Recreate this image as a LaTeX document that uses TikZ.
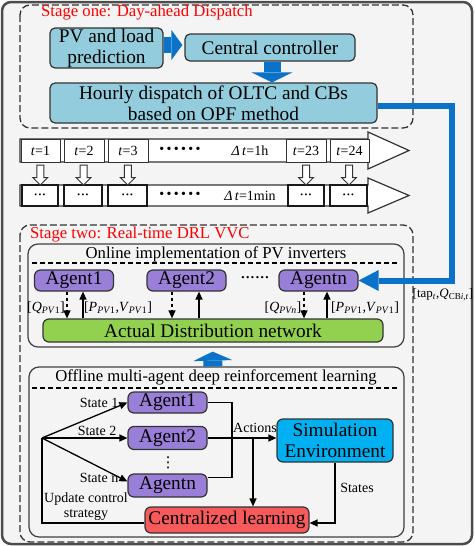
\documentclass[tikz,border=0pt]{standalone}
\usepackage{fontspec}
\setmainfont{Liberation Serif}
\newfontfamily\SymbolFont{DejaVu Sans}
\usepackage{tikz}
\usepackage{xcolor}
\usetikzlibrary{arrows.meta,positioning,calc,shapes.arrows}
\definecolor{Backdrop}{HTML}{F4F4F4}
\definecolor{PlanBlue}{HTML}{93CDDD}
\definecolor{AgentPurple}{HTML}{9A7FD8}
\definecolor{NetworkGreen}{HTML}{92D050}
\definecolor{SimulationCyan}{HTML}{00B0F0}
\definecolor{LearningRed}{HTML}{F65A5A}
\definecolor{ArrowBlue}{HTML}{0A72C8}
\definecolor{StageRed}{HTML}{FF0000}
\newcommand{\BoxFont}{\fontsize{19.3}{21}\selectfont}
\newcommand{\TitleFont}{\fontsize{16.7}{19}\selectfont}
\newcommand{\LabelFont}{\fontsize{14}{15}\selectfont}
\newcommand{\CellDots}{{\fontsize{8}{8}\selectfont •\,•\,•}}
\tikzstyle{StageBox} =[draw=black!80,dashed,dash pattern=on 7pt off 3pt,line width=1.3pt,rounded corners=10pt]
\tikzstyle{StageTitle} =[text=StageRed,font=\TitleFont,anchor=west,inner sep=0pt]
\tikzstyle{PanelBox} =[draw=black!75,line width=1.2pt,rounded corners=10pt,inner sep=0pt]
\tikzstyle{PanelTitle} =[font=\TitleFont,inner sep=0pt]
\tikzstyle{PanelRule} =[dashed,dash pattern=on 5pt off 3pt,line width=1.1pt]
\tikzstyle{PlanBox} =[draw=black!80,fill=PlanBlue,rounded corners=5pt,align=center,inner xsep=2pt,inner ysep=0pt,line width=1.2pt,font=\BoxFont]
\tikzstyle{AgentBox} =[draw=black!80,fill=AgentPurple,rounded corners=6pt,minimum width=79pt,minimum height=21pt,inner sep=0pt,line width=1.2pt,font=\BoxFont]
\tikzstyle{HourCell} =[draw=black!80,fill=white,minimum height=23pt,inner sep=0pt,line width=1pt,font=\LabelFont]
\tikzstyle{MinuteCell} =[draw=black!90,fill=white,minimum height=21pt,inner sep=0pt,line width=2pt,font=\LabelFont]
\tikzstyle{TimeBar} =[draw=black!80,fill=white,line width=1.2pt,line join=miter]
\tikzstyle{HollowDown} =[single arrow,draw=black!80,fill=white,shape border rotate=270,minimum height=20pt,inner sep=3pt,single arrow head extend=4pt,line width=1pt]
\tikzstyle{SmallText} =[font=\LabelFont,inner sep=0pt,align=center]
\tikzstyle{Flow} =[-{Triangle[length=8pt,width=7pt]},line width=1.3pt]
\tikzstyle{Feed} =[draw=ArrowBlue,line width=6pt,line join=miter,-{Triangle[length=20pt,width=21pt,line width=0pt]}]
\tikzset{PushArrow/.style n args={3}{draw=ArrowBlue,line width=#1,-{Triangle[length=#2,width=#3,line width=0pt]}}}
\begin{document}
\begin{tikzpicture}[x=1pt,y=-1pt]
\useasboundingbox (0,0) rectangle (474,546);
\fill[white] (0,0) rectangle (474,546);
\draw[draw=black!70,line width=2.5pt,fill=Backdrop,rounded corners=9pt] (2,2) rectangle (472,544);
\draw[StageBox] (20,5) rectangle (413,128);
\node[StageTitle] (StageOne) at (41,13) {Stage one: Day-ahead Dispatch};
\node[PlanBox,minimum width=113pt,minimum height=40pt] (Prediction) at (106.5,48) {PV and load\\prediction};
\node[PlanBox,minimum width=170pt,minimum height=27pt] (Controller) at (270,47.5) {Central controller};
\node[PlanBox,minimum width=327pt,minimum height=40pt] (Dispatch) at (213.5,103) {Hourly dispatch of OLTC and CBs\\based on OPF method};
\draw[PushArrow={16pt}{11pt}{30pt},shorten >=2pt] ([yshift=3pt]Prediction.east) -- ([yshift=3pt]Prediction.east -| Controller.west);
\draw[PushArrow={17pt}{10pt}{41pt}] ([xshift=2pt]Controller.south) -- ([xshift=2pt]Controller.south |- Dispatch.north);
\draw[TimeBar] (20,139) -- (368,139) -- (368,132) -- (409,150.5) -- (368,169) -- (368,162) -- (20,162) -- cycle;
\node[HourCell,minimum width=39pt] (T1) at (40.5,150.5) {\textit{t}=1};
\node[HourCell,minimum width=40pt] (T2) at (84,150.5) {\textit{t}=2};
\node[HourCell,minimum width=40pt] (T3) at (128,150.5) {\textit{t}=3};
\node[SmallText] (HourDots) at (180,150.5) {•\,•\,•\,•\,•\,•};
\node[SmallText] (HourStep) at (250,150.5) {\textit{Δ\,t}=1h};
\node[HourCell,minimum width=40pt] (T23) at (306,150.5) {\textit{t}=23};
\node[HourCell,minimum width=39pt] (T24) at (349.5,150.5) {\textit{t}=24};
\draw[TimeBar] (20,185) -- (368,185) -- (368,178) -- (409,195.5) -- (368,213) -- (368,206) -- (20,206) -- cycle;
\node[MinuteCell,minimum width=36pt] (M1) at (40,195.5) {\CellDots};
\node[MinuteCell,minimum width=38pt] (M2) at (83,195.5) {\CellDots};
\node[MinuteCell,minimum width=39pt] (M3) at (127.5,195.5) {\CellDots};
\node[SmallText] (MinuteDots) at (180,195.5) {•\,•\,•\,•\,•\,•};
\node[SmallText] (MinuteStep) at (250,195.5) {\textit{Δ\,t}=1min};
\node[MinuteCell,minimum width=36pt] (M23) at (306,195.5) {\CellDots};
\node[MinuteCell,minimum width=37pt] (M24) at (348.5,195.5) {\CellDots};
\node[HollowDown] (D1) at ($(T1.south)!0.5!(M1.north)$) {};
\node[HollowDown] (D2) at ($(T2.south)!0.5!(M2.north)$) {};
\node[HollowDown] (D3) at ($(T3.south)!0.5!(M3.north)$) {};
\node[HollowDown] (D23) at ($(T23.south)!0.5!(M23.north)$) {};
\node[HollowDown] (D24) at ($(T24.south)!0.5!(M24.north)$) {};
\draw[StageBox] (20,225) rectangle (413,542);
\node[StageTitle] (StageTwo) at (30,235) {Stage two: Real-time DRL VVC};
\node[PanelBox,minimum width=376pt,minimum height=103pt] (Online) at (216,295.5) {};
\node[PanelTitle] (OnlineTitle) at (216,254) {Online implementation of PV inverters};
\draw[PanelRule] (32,263) -- (398,263);
\node[AgentBox] (OnAgentOne) at (74,280.5) {Agent1};
\node[AgentBox] (OnAgentTwo) at (186.5,280.5) {Agent2};
\node[font=\BoxFont,inner sep=0pt] (OnDots) at (255,278) {......};
\node[AgentBox] (OnAgentN) at (318.5,280.5) {Agentn};
\node[draw=black!80,fill=NetworkGreen,rounded corners=6pt,minimum width=340pt,minimum height=23pt,inner sep=0pt,line width=1.2pt,font=\BoxFont] (Network) at (213,330.5) {Actual Distribution network};
\draw[Flow,dashed] ([xshift=-7pt]OnAgentOne.south) -- ([xshift=-7pt]OnAgentOne.south |- Network.north);
\draw[Flow] ([xshift=9pt]OnAgentOne.south |- Network.north) -- ([xshift=9pt]OnAgentOne.south);
\draw[Flow,dashed] ([xshift=-14.5pt]OnAgentTwo.south) -- ([xshift=-14.5pt]OnAgentTwo.south |- Network.north);
\draw[Flow] ([xshift=12.5pt]OnAgentTwo.south |- Network.north) -- ([xshift=12.5pt]OnAgentTwo.south);
\draw[Flow,dashed] ([xshift=-14.5pt]OnAgentN.south) -- ([xshift=-14.5pt]OnAgentN.south |- Network.north);
\draw[Flow] ([xshift=8.5pt]OnAgentN.south |- Network.north) -- ([xshift=8.5pt]OnAgentN.south);
\node[SmallText] (QOne) at (46,308) {[\textit{Q}\textsubscript{\textit{PV}1}]};
\node[SmallText] (PVOne) at (118,308) {[\textit{P}\textsubscript{\textit{PV}1},\textit{V}\textsubscript{\textit{PV}1}]};
\node[SmallText] (QN) at (283,308) {[\textit{Q}\textsubscript{\textit{PVn}}]};
\node[SmallText] (PVN) at (365,308) {[\textit{P}\textsubscript{\textit{PV}1},\textit{V}\textsubscript{\textit{PV}1}]};
\coordinate (Bus) at (452,0);
\draw[Feed] ([yshift=-3pt]Dispatch.east) -- ([yshift=-3pt]Dispatch.east -| Bus) -- (Bus |- OnAgentN.east) -- (OnAgentN.east);
\node[SmallText,font=\fontsize{13}{14}\selectfont] (TapLabel) at (443,295) {[tap\textsubscript{\textit{t}},\textit{Q}\textsubscript{CB\textit{i},\textit{t}}]};
\node[PanelBox,minimum width=375pt,minimum height=170pt] (Offline) at (216.5,452) {};
\node[PanelTitle] (OfflineTitle) at (216,377) {Offline multi-agent deep reinforcement learning};
\draw[PanelRule] (32,388) -- (398,388);
\draw[PushArrow={19pt}{9pt}{39pt},shorten >=4pt] ([xshift=-3.5pt]Offline.north) -- ([xshift=-3.5pt]Online.south);
\node[AgentBox] (OffAgentOne) at (167.5,402.5) {Agent1};
\node[AgentBox,minimum height=23pt] (OffAgentTwo) at (167.5,438) {Agent2};
\node[font=\fontsize{15}{15}\selectfont\SymbolFont,inner sep=0pt] (OffDots) at (168,463) {⋮};
\node[AgentBox,minimum height=23pt] (OffAgentN) at (167.5,485.5) {Agentn};
\node[draw=black!80,fill=SimulationCyan,rounded corners=6pt,minimum width=116pt,minimum height=43pt,inner sep=0pt,align=center,line width=1.2pt,font=\BoxFont] (Simulation) at (335,440.5) {Simulation\\Environment};
\node[draw=black!80,fill=LearningRed,rounded corners=6pt,minimum width=164pt,minimum height=26pt,inner sep=0pt,line width=1.2pt,font=\BoxFont] (Learning) at (227,520) {Centralized learning};
\coordinate (Hub) at (42,438);
\coordinate (Bracket) at (232,0);
\coordinate (Split) at (253,438);
\draw[Flow] (Hub) -- (OffAgentOne.west);
\draw[Flow] (Hub) -- (OffAgentTwo.west);
\draw[Flow] (Hub) -- ([yshift=4pt]OffAgentN.west);
\draw[line width=1.3pt] ([yshift=-3pt]Learning.west) -| (Hub);
\draw[line width=1.3pt] (OffAgentOne.east) -- (OffAgentOne.east -| Bracket) -- ([yshift=8pt]OffAgentN.east -| Bracket) -- ([yshift=8pt]OffAgentN.east);
\draw[Flow] (OffAgentTwo.east) -- (OffAgentTwo.east -| Simulation.west);
\draw[Flow] (Split) -- (Split |- Learning.north);
\draw[Flow] (Simulation.south) |- ([yshift=-3pt]Learning.east);
\node[SmallText] (StateOne) at (99,403) {State 1};
\node[SmallText] (StateTwo) at (97,431) {State 2};
\node[SmallText] (StateN) at (99,478) {State n};
\node[SmallText] (UpdateLabel) at (86,507) {Update control\\strategy};
\node[SmallText] (ActionsLabel) at (255,428) {Actions};
\node[SmallText] (StatesLabel) at (357,488) {States};
\end{tikzpicture}
\end{document}
